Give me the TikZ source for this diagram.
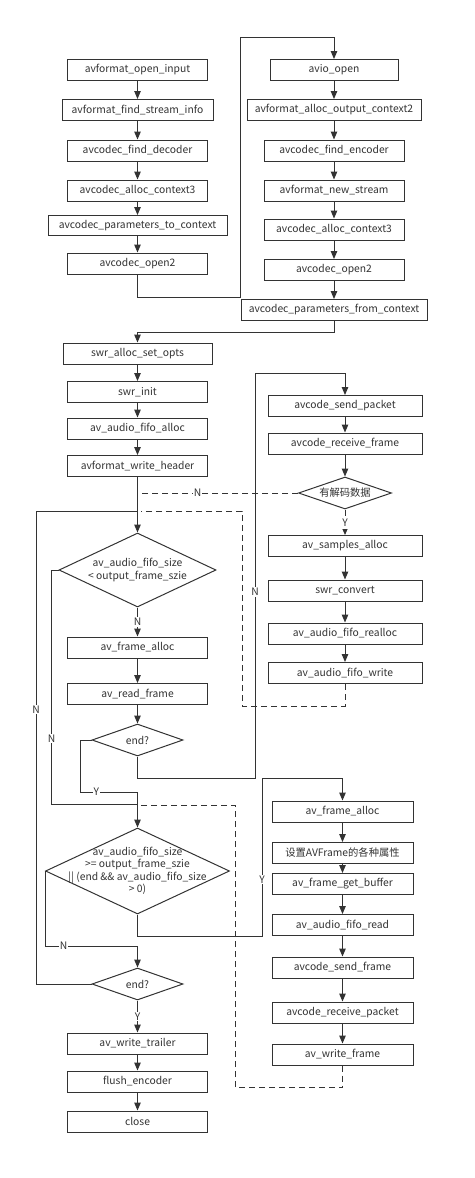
\documentclass[tikz,border=0pt]{standalone}
\usepackage{fontspec}
\newfontfamily\cjk{Noto Sans CJK SC}
\usetikzlibrary{shapes.geometric,arrows.meta}
\definecolor{ink}{HTML}{333333}

\begin{document}
\begin{tikzpicture}[x=1pt,y=-1pt,color=ink,line width=1pt]
		\tikzset{
			flow box/.style=
			{draw,fill=white,minimum width=140pt,minimum height=21pt,inner sep=1pt,font=\cjk\fontsize{10.3}{12}\selectfont},
			flow choice/.style=
			{draw,fill=white,diamond,aspect=2.9,inner sep=0pt,font=\cjk\fontsize{10.3}{12}\selectfont},
			flow line/.style=
			{draw,line width=1pt},
			flow edge/.style=
			{flow line,-{Triangle[length=8pt,width=6.5pt]}},
			back edge/.style=
			{flow line,dash pattern=on 6pt off 4pt},
			edge tag/.style=
			{fill=white,inner sep=1pt,font=\cjk\fontsize{10.3}{12}\selectfont},
		}
		\useasboundingbox (0,0) rectangle (474,1178);
		% decoder side
		\node[flow box] (openin) at (137.5,70) {avformat\_open\_input};
		\node[flow box,minimum width=151pt] (findinfo) at (137.5,110) {avformat\_find\_stream\_info};
		\node[flow box] (finddec) at (137.5,150.5) {avcodec\_find\_decoder};
		\node[flow box] (decctx) at (137.5,190.5) {avcodec\_alloc\_context3};
		\node[flow box,minimum width=179pt,minimum height=20pt] (partoctx) at (137.5,225.5) {avcodec\_parameters\_to\_context};
		\node[flow box] (decopen) at (137.5,263.5) {avcodec\_open2};
		% encoder side
		\node[flow box,minimum width=128pt] (avioopen) at (334,70) {avio\_open};
		\node[flow box,minimum width=174pt] (outctx) at (334,110) {avformat\_alloc\_output\_context2};
		\node[flow box] (findenc) at (334,150.5) {avcodec\_find\_encoder};
		\node[flow box] (newstream) at (334,190.5) {avformat\_new\_stream};
		\node[flow box] (encctx) at (334,229.5) {avcodec\_alloc\_context3};
		\node[flow box] (encopen) at (334,270) {avcodec\_open2};
		\node[flow box,minimum width=186pt] (parfromctx) at (334,310) {avcodec\_parameters\_from\_context};
		% main loop
		\node[flow box,minimum width=149pt] (swralloc) at (137.5,353.5) {swr\_alloc\_set\_opts};
		\node[flow box] (swrinit) at (137.5,392) {swr\_init};
		\node[flow box] (fifoalloc) at (137.5,428.5) {av\_audio\_fifo\_alloc};
		\node[flow box] (writehdr) at (137.5,466) {avformat\_write\_header};
		\node[flow choice,minimum width=157pt,minimum height=74pt,
			label={[align=center,font=\cjk\fontsize{10.3}{12.5}\selectfont]center:{av\_audio\_fifo\_size\\< output\_frame\_szie}}] (fifolow) at (137.5,570) {};
		\node[flow box] (decframe) at (137.5,647.5) {av\_frame\_alloc};
		\node[flow box] (readframe) at (137.5,694) {av\_read\_frame};
		\node[flow choice,minimum width=91pt,minimum height=32pt] (readend) at (137.5,740) {end?};
		\node[flow choice,minimum width=184pt,minimum height=86pt,
			label={[align=center,font=\cjk\fontsize{10.3}{12.5}\selectfont]center:{av\_audio\_fifo\_size\\>= output\_frame\_szie\\|| (end \&\& av\_audio\_fifo\_size\\> 0)}}] (fifoready) at (137.5,871) {};
		\node[flow choice,minimum width=91pt,minimum height=32pt] (lastend) at (137.5,984) {end?};
		\node[flow box] (trailer) at (137.5,1043.5) {av\_write\_trailer};
		\node[flow box] (flushenc) at (137.5,1081.5) {flush\_encoder};
		\node[flow box] (closeall) at (137.5,1121.5) {close};
		% decode branch
		\node[flow box,minimum width=154pt] (sendpkt) at (345,406) {avcode\_send\_packet};
		\node[flow box,minimum width=154pt] (recvframe) at (345,443.5) {avcode\_receive\_frame};
		\node[flow choice,minimum width=93pt,minimum height=32pt] (gotframe) at (345,493) {有解码数据};
		\node[flow box,minimum width=154pt] (samples) at (345,546) {av\_samples\_alloc};
		\node[flow box,minimum width=154pt] (convert) at (345,590.5) {swr\_convert};
		\node[flow box,minimum width=154pt] (realloc) at (345,633.5) {av\_audio\_fifo\_realloc};
		\node[flow box,minimum width=154pt] (fifowrite) at (345,673) {av\_audio\_fifo\_write};
		% encode branch
		\node[flow box,minimum width=141pt] (encframe) at (342.5,811.5) {av\_frame\_alloc};
		\node[flow box,minimum width=141pt] (setattr) at (342.5,853) {设置AVFrame的各种属性};
		\node[flow box,minimum width=141pt] (getbuf) at (342.5,884) {av\_frame\_get\_buffer};
		\node[flow box,minimum width=141pt] (fiforead) at (342.5,925) {av\_audio\_fifo\_read};
		\node[flow box,minimum width=141pt] (sendframe) at (342.5,967.5) {avcode\_send\_frame};
		\node[flow box,minimum width=141pt] (recvpkt) at (342.5,1012.5) {avcode\_receive\_packet};
		\node[flow box,minimum width=141pt] (writeframe) at (342.5,1054.5) {av\_write\_frame};
		% joins
		\coordinate (hdrjoin) at (141,493);
		\coordinate (fifojoin) at (141,511);
		\coordinate (looptop) at (137.5,511);
		\coordinate (lowjoin) at (137.5,804);
		\coordinate (readjoin) at (137.5,792);
		\coordinate (encjoin) at (137.5,805);
		% connectors
		\foreach \a/\b in {openin/findinfo,findinfo/finddec,finddec/decctx,decctx/partoctx,partoctx/decopen,
			avioopen/outctx,outctx/findenc,findenc/newstream,newstream/encctx,encctx/encopen,encopen/parfromctx,
			swralloc/swrinit,swrinit/fifoalloc,fifoalloc/writehdr,writehdr/fifolow,
			decframe/readframe,readframe/readend,
			sendpkt/recvframe,recvframe/gotframe,samples/convert,convert/realloc,realloc/fifowrite,
			encframe/setattr,setattr/getbuf,getbuf/fiforead,fiforead/sendframe,sendframe/recvpkt,recvpkt/writeframe,
			trailer/flushenc,flushenc/closeall}
			\draw[flow edge] (\a.south) -- (\b.north);
		\draw[flow edge] (decopen.south) -- ++(0,22.5) -| (240,37) -| (avioopen.north);
		\draw[flow edge] (parfromctx.south) -- ++(0,11) -| (swralloc.north);
		\draw[flow edge] (fifolow.south) -- node[edge tag]{N} (decframe.north);
		\draw[flow edge] (readend.south) -- ++(0,22) -| node[edge tag,pos=0.73]{N} (255,373) -| (sendpkt.north);
		\draw[back edge] (gotframe.west) -- node[edge tag,pos=0.64]{N} (hdrjoin);
		\draw[back edge,-{Triangle[length=6pt,width=5pt]}] (gotframe.south) -- node[edge tag]{Y} (samples.north);
		\draw[back edge] (fifowrite.south) -- ++(0,22) -| (242,511) -- (fifojoin);
		\draw[flow line] (lastend.west) -| node[edge tag,pos=0.79]{N} (36,511) -- (looptop);
		\draw[flow line] (fifolow.west) -- ++(-7,0) |- node[edge tag,pos=0.36]{N} (lowjoin);
		\draw[flow edge] (readend.west) -- ++(-11,0) |- node[edge tag,pos=0.64]{Y} (readjoin) -- (fifoready.north);
		\draw[back edge] (writeframe.south) -- ++(0,22) -| (235,805) -- (encjoin);
		\draw[flow edge] (fifoready.west) |- node[edge tag,pos=0.6]{N} (137.5,946) -- (lastend.north);
		\draw[flow edge] (fifoready.south) -- ++(0,22) -| node[edge tag,pos=0.68]{Y} (262,778) -| (encframe.north);
		\draw[flow edge] (lastend.south) -- node[edge tag]{Y} (trailer.north);
		\end{tikzpicture}
\end{document}
